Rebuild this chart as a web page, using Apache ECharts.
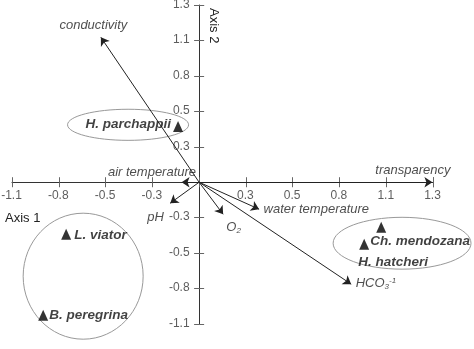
<!DOCTYPE html>
<html>
<head>
<meta charset="utf-8">
<script src="https://cdn.jsdelivr.net/npm/echarts@6/dist/echarts.min.js"></script>
<style>
html,body{margin:0;padding:0;background:#fff;}
#chart{width:474px;height:349px;}
</style>
</head>
<body>
<div id="chart"></div>
<script>
// ---- data ----
var step = 4 / 15;
var xTickLabels = ['-1.1', '-0.8', '-0.5', '-0.3', '', '0.3', '0.5', '0.8', '1.1', '1.3'];
var yTickLabels = ['-1.1', '-0.8', '-0.5', '-0.3', '', '0.3', '0.5', '0.8', '1.1', '1.3'];

var vectorNames = ['conductivity', 'air temperature', 'transparency', 'pH', 'O2', 'water temperature', 'HCO3-1'];
var vectorX = [-0.56, -0.10, 1.33, -0.165, 0.137, 0.342, 0.867];
var vectorY = [1.09, 0.0, 0.0, -0.158, -0.241, -0.203, -0.767];

var speciesNames = ['H. parchappii', 'Ch. mendozana', 'H. hatcheri', 'L. viator', 'B. peregrina'];
var speciesX = [-0.12, 1.038, 0.941, -0.758, -0.889];
var speciesY = [0.42, -0.338, -0.466, -0.391, -1.0];

var groupCX = [-0.405, 1.157, -0.661];
var groupCY = [0.432, -0.459, -0.707];
var groupRX = [0.345, 0.393, 0.342];
var groupRY = [0.117, 0.195, 0.474];

// ---- styles ----
var FONT = 'Liberation Sans, Arial, sans-serif';
var vecLabelStyle = {
  'conductivity': { position: [-7, -11], align: 'center' },
  'air temperature': { position: [15, -9], align: 'right' },
  'transparency': { position: [-19, -11], align: 'center' },
  'pH': { position: [-14, 15], align: 'center' },
  'O2': { position: [11, 14], align: 'center' },
  'water temperature': { position: [5, 1], align: 'left' },
  'HCO3-1': { position: [5, 0], align: 'left' }
};
var vecFormat = {
  'O2': '{n|O}{s|2}',
  'HCO3-1': '{n|HCO}{s|3}{p|-1}'
};
// offsets relative to the triangle's bounding-box top-left (10x11 symbol)
var spLabelStyle = {
  'H. parchappii': { position: [-2, 3.5], align: 'right' },
  'Ch. mendozana': { position: [-6, 19.5], align: 'left' },
  'H. hatcheri': { position: [-1, 23.5], align: 'left' },
  'L. viator': { position: [13, 6.5], align: 'left' },
  'B. peregrina': { position: [11, 5.5], align: 'left' }
};

var chart = echarts.init(document.getElementById('chart'), null, { renderer: 'canvas' });

var axisCommon = {
  type: 'value', min: -4 * step, max: 5 * step, interval: step,
  splitLine: { show: false }
};

var vecLines = vectorNames.map(function (n, i) {
  return { coords: [[0, 0], [vectorX[i], vectorY[i]]] };
});
var vecLabels = vectorNames.map(function (n, i) {
  var s = vecLabelStyle[n];
  return {
    value: [vectorX[i], vectorY[i]],
    name: n,
    label: { position: s.position, align: s.align, verticalAlign: 'middle' }
  };
});
var spData = speciesNames.map(function (n, i) {
  var s = spLabelStyle[n];
  return {
    value: [speciesX[i], speciesY[i]],
    name: n,
    label: { position: s.position, align: s.align, verticalAlign: 'middle' }
  };
});
var ellData = groupCX.map(function (c, i) {
  return [groupCX[i], groupCY[i], groupRX[i], groupRY[i]];
});
// tick labels placed at the tick values on the zero lines
var xTickData = [];
xTickLabels.forEach(function (t, i) {
  if (t) xTickData.push({ value: [(i - 4) * step, 0], name: t });
});
var yTickData = [];
yTickLabels.forEach(function (t, i) {
  if (t) yTickData.push({ value: [0, (i - 4) * step], name: t });
});

var option = {
  animation: false,
  backgroundColor: '#fff',
  grid: { left: 12, right: 41, top: 5, bottom: 25, containLabel: false, outerBoundsMode: 'none' },
  xAxis: [
    Object.assign({}, axisCommon, {
      position: 'bottom',
      axisLine: { onZero: true, onZeroAxisIndex: 0, lineStyle: { color: '#333', width: 1 } },
      axisTick: { show: true, inside: false, length: 5, lineStyle: { color: '#666' } },
      axisLabel: { show: false }
    }),
    Object.assign({}, axisCommon, {
      position: 'bottom',
      axisLine: { show: false, onZero: true, onZeroAxisIndex: 0 },
      axisTick: { show: true, inside: true, length: 5, lineStyle: { color: '#666' } },
      axisLabel: { show: false }
    })
  ],
  yAxis: [
    Object.assign({}, axisCommon, {
      position: 'left',
      axisLine: { onZero: true, onZeroAxisIndex: 0, lineStyle: { color: '#333', width: 1 } },
      axisTick: { show: true, inside: false, length: 5, lineStyle: { color: '#666' } },
      axisLabel: { show: false }
    }),
    Object.assign({}, axisCommon, {
      position: 'left',
      axisLine: { show: false, onZero: true, onZeroAxisIndex: 0 },
      axisTick: { show: true, inside: true, length: 5, lineStyle: { color: '#666' } },
      axisLabel: { show: false }
    })
  ],
  graphic: [
    { type: 'text', left: 5, top: 212, style: { text: 'Axis 1', font: '13px ' + FONT, fill: '#222' } },
    { type: 'text', x: 214, y: 8, rotation: -Math.PI / 2,
      style: { text: 'Axis 2', font: '13px ' + FONT, fill: '#222', align: 'left', verticalAlign: 'middle' } }
  ],
  series: [
    {
      type: 'custom',
      coordinateSystem: 'cartesian2d',
      silent: true,
      clip: false,
      data: ellData,
      renderItem: function (params, api) {
        var c = api.coord([api.value(0), api.value(1)]);
        var s = api.size([api.value(2), api.value(3)]);
        return {
          type: 'ellipse',
          shape: { cx: c[0], cy: c[1], rx: s[0], ry: s[1] },
          style: { fill: 'none', stroke: '#999', lineWidth: 1 }
        };
      },
      z: 1
    },
    {
      type: 'scatter',
      data: xTickData,
      symbolSize: 1,
      clip: false,
      silent: true,
      itemStyle: { color: 'rgba(0,0,0,0)' },
      label: { show: true, formatter: '{b}', position: [0, 14], align: 'center', verticalAlign: 'middle',
        fontFamily: FONT, fontSize: 12, color: '#333' },
      z: 2
    },
    {
      type: 'scatter',
      data: yTickData,
      symbolSize: 1,
      clip: false,
      silent: true,
      itemStyle: { color: 'rgba(0,0,0,0)' },
      label: { show: true, formatter: '{b}', position: [-9, 0], align: 'right', verticalAlign: 'middle',
        fontFamily: FONT, fontSize: 12, color: '#333' },
      z: 2
    },
    {
      type: 'lines',
      coordinateSystem: 'cartesian2d',
      data: vecLines,
      symbol: ['none', 'arrow'],
      symbolSize: [0, 8],
      lineStyle: { color: '#222', width: 1, opacity: 1 },
      z: 3
    },
    {
      type: 'scatter',
      data: vecLabels,
      symbolSize: 1,
      clip: false,
      itemStyle: { color: 'rgba(0,0,0,0)' },
      label: {
        show: true,
        formatter: function (p) { return vecFormat[p.name] || p.name; },
        fontFamily: FONT, fontSize: 13, fontStyle: 'italic', color: '#222',
        rich: {
          n: { fontFamily: FONT, fontSize: 13, fontStyle: 'italic', color: '#222' },
          s: { fontFamily: FONT, fontSize: 8, fontStyle: 'italic', color: '#222', verticalAlign: 'bottom', padding: [6, 0, 0, 0] },
          p: { fontFamily: FONT, fontSize: 8, fontStyle: 'italic', color: '#222', verticalAlign: 'top', padding: [0, 0, 6, 0] }
        }
      },
      z: 4
    },
    {
      type: 'scatter',
      data: spData,
      symbol: 'triangle',
      symbolSize: [10, 11],
      clip: false,
      itemStyle: { color: '#000' },
      label: {
        show: true,
        formatter: '{b}',
        fontFamily: FONT, fontSize: 13.5, fontStyle: 'italic', fontWeight: 'bold', color: '#111'
      },
      z: 5
    }
  ]
};
chart.setOption(option);
</script>
</body>
</html>
